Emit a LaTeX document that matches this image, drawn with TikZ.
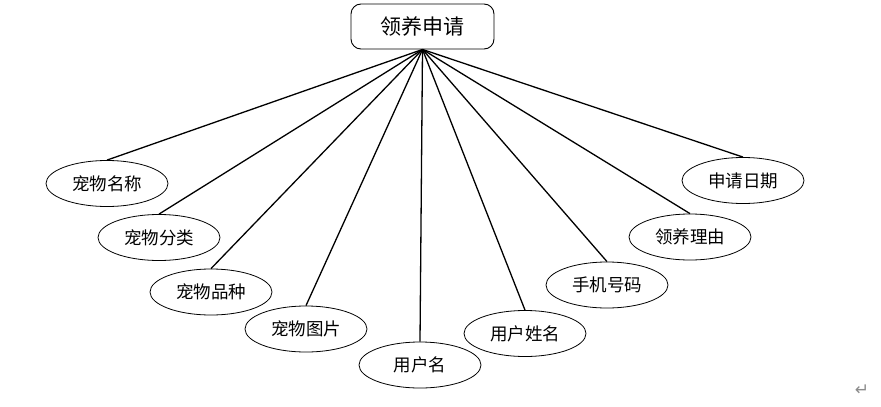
\documentclass[tikz,border=0pt]{standalone}
\usepackage{fontspec}
\newfontfamily\cjk{Noto Sans CJK SC}
\newfontfamily\dejavu{DejaVu Sans}
\usetikzlibrary{shapes.geometric}
\begin{document}
\begin{tikzpicture}[x=1pt,y=-1pt,
  attr/.style={ellipse,draw,line width=0.8pt,minimum width=122pt,minimum height=46pt,inner sep=0pt,font=\cjk\fontsize{17.5}{20}\selectfont},
  entity/.style={rectangle,rounded corners=10pt,draw,line width=0.9pt,minimum width=143pt,minimum height=45pt,inner sep=0pt,font=\cjk\fontsize{21}{24}\selectfont},
  conn/.style={line width=1.3pt}]
\useasboundingbox (0,0) rectangle (881,407);
\node[entity] (e) at (422.5,26.5) {领养申请};
\node[attr] (a1) at (107,183.5) {宠物名称};
\node[attr] (a2) at (159,237.5) {宠物分类};
\node[attr] (a3) at (211,292) {宠物品种};
\node[attr] (a4) at (306,329) {宠物图片};
\node[attr] (a5) at (420,365) {用户名};
\node[attr] (a6) at (525,333.5) {用户姓名};
\node[attr] (a7) at (607,285) {手机号码};
\node[attr] (a8) at (690,237) {领养理由};
\node[attr] (a9) at (743,180.5) {申请日期};
\foreach \i in {1,...,9} \draw[conn] (e.south) -- (a\i.north);
\node[font=\dejavu\fontsize{17}{19}\selectfont,text=black!45,inner sep=0pt] (ret) at (862,390) {↵};
\end{tikzpicture}
\end{document}
